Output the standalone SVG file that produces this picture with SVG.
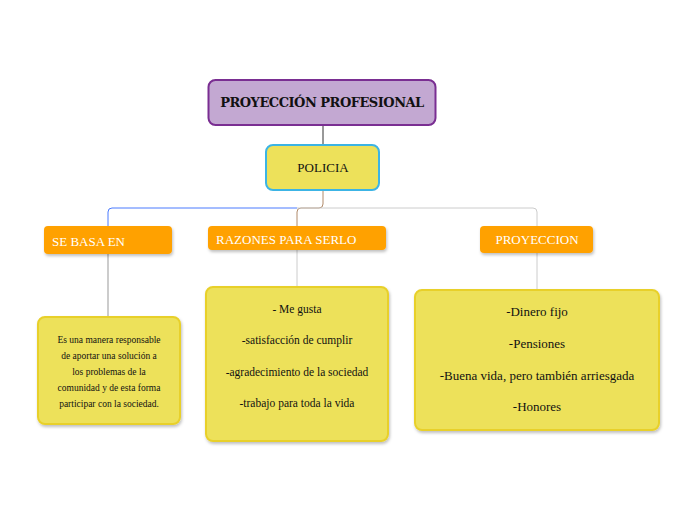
<svg xmlns="http://www.w3.org/2000/svg" width="696" height="520" viewBox="0 0 696 520">
<defs>
<filter id="sh" x="-10%" y="-10%" width="130%" height="130%"><feDropShadow dx="1" dy="2" stdDeviation="1.5" flood-color="#000" flood-opacity="0.25"/></filter>
</defs>
<style>
text{font-family:"Liberation Serif","DejaVu Serif",serif;fill:#111;text-anchor:middle}
.or{fill:#FFA100;filter:url(#sh)}
.ye{fill:#EDE15A;stroke:#E8D02A;stroke-width:2;filter:url(#sh)}
.wt{fill:#fff;font-size:13px}
.ln{fill:none;stroke-width:1}
</style>
<rect width="696" height="520" fill="#fff"/>
<g id="connectors">
<line class="ln" stroke="#333" x1="323" y1="125" x2="323" y2="146"/>
<path class="ln" stroke="#b08a6a" d="M323 190 V204 Q323 208 319 208 H301 Q297 208 297 212 V228"/>
<path class="ln" stroke="#4a7bff" d="M297 208 H112 Q108 208 108 212 V228"/>
<path class="ln" stroke="#ccc" d="M297 208 H533 Q537 208 537 212 V228"/>
<line class="ln" stroke="#999" x1="108" y1="254" x2="108" y2="318"/>
<line class="ln" stroke="#ccc" x1="297" y1="250" x2="297" y2="287"/>
<line class="ln" stroke="#ccc" x1="537" y1="253" x2="537" y2="291"/>
</g>
<g id="title">
<rect x="208.5" y="80" width="227" height="45" rx="7" fill="#C3A8D2" stroke="#7A2E92" stroke-width="2"/>
<text x="322" y="107" font-size="13" font-weight="bold" style="font-family:'DejaVu Serif',serif" letter-spacing="-0.5">PROYECCIÓN PROFESIONAL</text>
</g>
<g id="policia">
<rect x="266" y="145" width="113" height="45" rx="7" fill="#EDE15A" stroke="#3CB4E5" stroke-width="2"/>
<text x="323" y="172" font-size="13">POLICIA</text>
</g>
<g id="sebasa">
<rect class="or" x="44" y="226" width="128" height="28" rx="4"/>
<text class="wt" x="52" y="246" text-anchor="start" style="text-anchor:start">SE BASA EN</text>
</g>
<g id="razones">
<rect class="or" x="208" y="226" width="178" height="24" rx="4"/>
<text class="wt" x="216" y="244" style="text-anchor:start">RAZONES PARA SERLO</text>
</g>
<g id="proyeccion">
<rect class="or" x="480" y="226" width="113" height="27" rx="4"/>
<text class="wt" x="537" y="244">PROYECCION</text>
</g>
<g id="box1">
<rect class="ye" x="38" y="317" width="142" height="107" rx="7"/>
<text font-size="9.5"><tspan x="109" y="343">Es una manera responsable</tspan><tspan x="109" y="359">de aportar una solución a</tspan><tspan x="109" y="375">los problemas de la</tspan><tspan x="109" y="391">comunidad y de esta forma</tspan><tspan x="109" y="407">participar con la sociedad.</tspan></text>
</g>
<g id="box2">
<rect class="ye" x="206" y="287" width="182" height="154" rx="7"/>
<text font-size="11.5"><tspan x="297" y="313">- Me gusta</tspan><tspan x="297" y="344">-satisfacción de cumplir</tspan><tspan x="297" y="376">-agradecimiento de la sociedad</tspan><tspan x="297" y="407">-trabajo para toda la vida</tspan></text>
</g>
<g id="box3">
<rect class="ye" x="415" y="290" width="244" height="140" rx="7"/>
<text font-size="13"><tspan x="537" y="316">-Dinero fijo</tspan><tspan x="537" y="348">-Pensiones</tspan><tspan x="537" y="380">-Buena vida, pero también arriesgada</tspan><tspan x="537" y="411">-Honores</tspan></text>
</g>
</svg>
